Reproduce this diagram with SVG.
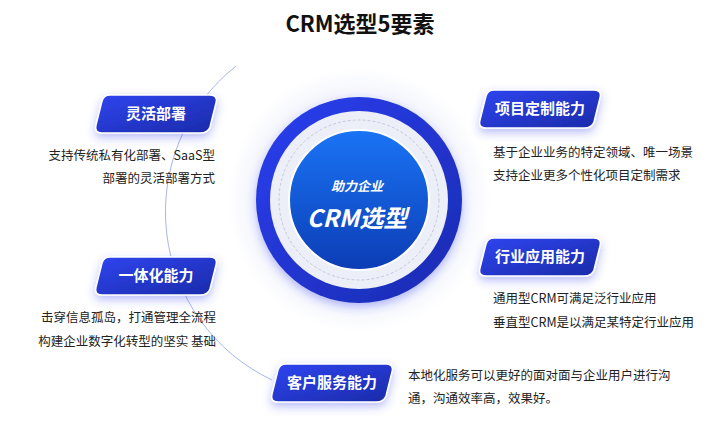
<svg xmlns="http://www.w3.org/2000/svg" width="720" height="421" viewBox="0 0 720 421">
<defs>
<linearGradient id="tab" x1="0" y1="0" x2="1" y2="1"><stop offset="0" stop-color="#2f45f0"/><stop offset="1" stop-color="#1a2aa8"/></linearGradient>
<linearGradient id="core" x1="0" y1="0" x2="0" y2="1"><stop offset="0" stop-color="#1a74f5"/><stop offset="1" stop-color="#0c3db5"/></linearGradient>
<linearGradient id="ring" x1="0" y1="0" x2="1" y2="1"><stop offset="0" stop-color="#2b3ff0"/><stop offset="1" stop-color="#1a2bb0"/></linearGradient>
<radialGradient id="halo"><stop offset="0.7" stop-color="#eef0fb"/><stop offset="1" stop-color="#ffffff"/></radialGradient>
<filter id="sh" x="-30%" y="-50%" width="160%" height="220%"><feDropShadow dx="0" dy="4" stdDeviation="5" flood-color="#3344ee" flood-opacity="0.35"/></filter>
<g id="tabshape"><path d="M14,0 H114 Q122,0 120,8 L114,32 Q112,38 104,38 H6 Q-2,38 0,30 L6,6 Q8,0 14,0 Z" fill="url(#tab)" stroke="#ffffff" stroke-width="1.5" filter="url(#sh)"/></g>
</defs>
<style>
.t{font-family:"Noto Sans CJK SC","Liberation Sans",sans-serif;}
.tab{font-size:15px;font-weight:bold;fill:#fff;text-anchor:middle}
.d{font-size:12.5px;fill:#222}
</style>
<rect width="720" height="421" fill="#fff"/>
<text class="t" x="360" y="32" font-size="22" font-weight="bold" fill="#111" text-anchor="middle">CRM选型5要素</text>
<g id="connectors" fill="none" stroke="#a9b4ee" stroke-width="1">
<path d="M236,66 A186,186 0 0 0 272,380"/>
</g>
<g id="center">
<circle cx="359" cy="200" r="132" fill="url(#halo)"/>
<circle cx="359" cy="200" r="103" fill="url(#ring)" filter="url(#sh)"/>
<circle cx="359" cy="200" r="89" fill="#eceef8"/>
<circle cx="359" cy="200" r="80" fill="none" stroke="#c5c9dc" stroke-dasharray="3 2"/>
<circle cx="359" cy="200" r="70" fill="url(#core)" stroke="#ffffff" stroke-width="2"/>
<text class="t" x="357" y="191" font-size="13" font-weight="bold" font-style="italic" fill="#fff" text-anchor="middle">助力企业</text>
<text class="t" x="357" y="227" font-size="24" font-weight="bold" font-style="italic" fill="#fff" text-anchor="middle">CRM选型</text>
</g>
<g id="n1"><use href="#tabshape" x="96" y="95"/><text class="t tab" x="156" y="119">灵活部署</text>
<text class="t d" x="215" y="160" text-anchor="end">支持传统私有化部署、SaaS型</text><text class="t d" x="215" y="183" text-anchor="end">部署的灵活部署方式</text></g>
<g id="n2"><use href="#tabshape" x="96" y="257"/><text class="t tab" x="156" y="281">一体化能力</text>
<text class="t d" x="216" y="322" text-anchor="end">击穿信息孤岛，打通管理全流程</text><text class="t d" x="216" y="346" text-anchor="end">构建企业数字化转型的坚实  基础</text></g>
<g id="n3"><use href="#tabshape" x="480" y="90"/><text class="t tab" x="540" y="114">项目定制能力</text>
<text class="t d" x="493" y="157">基于企业业务的特定领域、唯一场景</text><text class="t d" x="493" y="180">支持企业更多个性化项目定制需求</text></g>
<g id="n4"><use href="#tabshape" x="480" y="238"/><text class="t tab" x="540" y="262">行业应用能力</text>
<text class="t d" x="493" y="303">通用型CRM可满足泛行业应用</text><text class="t d" x="493" y="327">垂直型CRM是以满足某特定行业应用</text></g>
<g id="n5"><use href="#tabshape" x="272" y="364"/><text class="t tab" x="332" y="388">客户服务能力</text>
<text class="t d" x="408" y="380">本地化服务可以更好的面对面与企业用户进行沟</text><text class="t d" x="408" y="403">通，沟通效率高，效果好。</text></g>
</svg>
